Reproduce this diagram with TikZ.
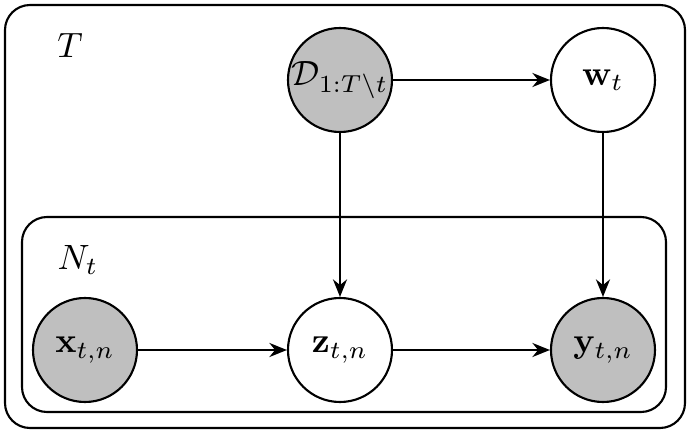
\documentclass[tikz,border=0pt]{standalone}
\usepackage{amsmath,amssymb}
\usetikzlibrary{arrows.meta}
\begin{document}
\begin{tikzpicture}[x=0.01cm,y=-0.01cm,line width=0.6pt,
  var/.style={circle,draw,minimum size=104*0.01cm,inner sep=0pt,fill=white},
  obs/.style={var,fill=black!25},
  plate/.style={draw,rounded corners=0.25cm},
  arr/.style={-{Stealth[length=5pt,width=4pt]}}]
\useasboundingbox (0,0) rectangle (690,436);
\draw[plate] (5,5) rectangle (685,428);
\draw[plate] (22,217) rectangle (666,412);
\node (T) at (70,45) {$T$};
\node (N) at (78,260) {$N_t$};
\node[obs] (D) at (340,80) {$\mathcal{D}_{1:T\setminus t}$};
\node[var] (w) at (603,80) {$\mathbf{w}_t$};
\node[obs] (x) at (85,350) {$\mathbf{x}_{t,n}$};
\node[var] (z) at (340,350) {$\mathbf{z}_{t,n}$};
\node[obs] (y) at (603,350) {$\mathbf{y}_{t,n}$};
\draw[arr] (D) -- (w);
\draw[arr] (D) -- (z);
\draw[arr] (w) -- (y);
\draw[arr] (x) -- (z);
\draw[arr] (z) -- (y);
\end{tikzpicture}
\end{document}
